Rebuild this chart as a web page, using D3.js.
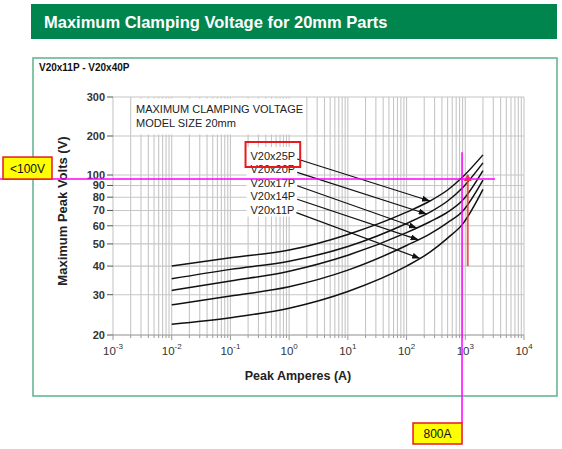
<!DOCTYPE html>
<html lang="en">
<head>
<meta charset="utf-8">
<title>Maximum Clamping Voltage for 20mm Parts</title>
<script src="https://d3js.org/d3.v7.min.js"></script>
<style>
  body { margin: 0; background: #fff; }
  text { font-family: "Liberation Sans", Arial, sans-serif; }
</style>
</head>
<body>
<script>
var w = 562, h = 449;

// data
var currents = [0.01, 0.1, 1, 10, 100, 250, 500, 900, 2000];
var models = ["V20x25P", "V20x20P", "V20x17P", "V20x14P", "V20x11P"];
var v20x25 = [40, 43.5, 47, 55, 68.8, 77, 86, 98, 143];
var v20x20 = [35.2, 38.7, 42, 48.7, 61.4, 68.8, 77, 88, 124];
var v20x17 = [31.3, 34.4, 38, 44.6, 56, 62.5, 68.8, 77.5, 108];
var v20x14 = [27.1, 29.6, 32.5, 38.4, 49.2, 55.3, 62, 69.5, 95];
var v20x11 = [22.3, 23.8, 26.2, 31, 40, 46, 53, 61, 86.5];
var tipCurrents = [250, 220, 150, 160, 170];
var yTicks = [20, 30, 40, 50, 60, 70, 80, 90, 100, 200, 300];
var xDecades = [-3, -2, -1, 0, 1, 2, 3, 4];

// annotations
var markAmps = 880, markVolts = 96, markTop = 150;
var limitAmps = 1100, limitLow = 40, limitHigh = 100;

var series = [v20x25, v20x20, v20x17, v20x14, v20x11];

var svg = d3.select("body").append("svg")
    .attr("width", w).attr("height", h);

// header bar
svg.append("rect").attr("x", 31).attr("y", 4).attr("width", 526).attr("height", 35)
    .attr("fill", "#00854f");
svg.append("text").attr("x", 44).attr("y", 28)
    .attr("fill", "#fff").attr("font-size", 16.5).attr("font-weight", "bold")
    .text("Maximum Clamping Voltage for 20mm Parts");

// panel
svg.append("rect").attr("x", 33).attr("y", 58).attr("width", 524).attr("height", 338)
    .attr("fill", "#fff").attr("stroke", "#5cb38e").attr("stroke-width", 1.5);
svg.append("text").attr("x", 39).attr("y", 71)
    .attr("font-size", 10).attr("font-weight", "bold").attr("fill", "#111")
    .text("V20x11P - V20x40P");

// scales (vertical axis of the datasheet is not a pure log, so piecewise)
var x = d3.scaleLog().domain([1e-3, 1e4]).range([113, 524]);
var y = d3.scaleLog().domain([20, 100, 200, 300]).range([335, 175, 136, 97]);

var defs = svg.append("defs");
defs.append("marker").attr("id", "head")
    .attr("markerUnits", "userSpaceOnUse")
    .attr("markerWidth", 8).attr("markerHeight", 6)
    .attr("refX", 8).attr("refY", 3).attr("orient", "auto")
    .append("path").attr("d", "M0,0L8,3L0,6Z").attr("fill", "#111");
defs.append("marker").attr("id", "redhead")
    .attr("markerUnits", "userSpaceOnUse")
    .attr("markerWidth", 8).attr("markerHeight", 8)
    .attr("refX", 6).attr("refY", 4).attr("orient", "auto")
    .append("path").attr("d", "M0,0L7,4L0,8Z").attr("fill", "#e04040");

// grid
var grid = svg.append("g");
grid.selectAll(".vg").data(x.ticks()).enter().append("line")
    .attr("x1", d => x(d)).attr("x2", d => x(d))
    .attr("y1", y(300)).attr("y2", y(20))
    .attr("stroke", "#c6c6c6").attr("stroke-width", 1.1);
grid.selectAll(".hg").data(yTicks).enter().append("line")
    .attr("x1", x(1e-3)).attr("x2", x(1e4))
    .attr("y1", d => y(d)).attr("y2", d => y(d))
    .attr("stroke", "#c6c6c6").attr("stroke-width", 1.1);

// y axis ticks and labels
var ya = svg.append("g");
ya.selectAll("line").data(yTicks).enter().append("line")
    .attr("x1", x(1e-3) - 6).attr("x2", x(1e-3))
    .attr("y1", d => y(d)).attr("y2", d => y(d))
    .attr("stroke", "#555");
ya.selectAll("text").data(yTicks).enter().append("text")
    .attr("x", x(1e-3) - 8).attr("y", d => y(d) + 4)
    .attr("text-anchor", "end").attr("font-size", 11).attr("font-weight", "bold")
    .attr("fill", "#333").text(d => d);

// x axis
var xa = svg.append("g");
xa.append("line").attr("x1", x(1e-3)).attr("x2", x(1e4))
    .attr("y1", y(20)).attr("y2", y(20)).attr("stroke", "#aaa");
xa.selectAll("line.t").data(x.ticks()).enter().append("line")
    .attr("x1", d => x(d)).attr("x2", d => x(d))
    .attr("y1", y(20)).attr("y2", d => y(20) + (Math.abs(Math.log10(d) % 1) < 1e-9 ? 5 : 3))
    .attr("stroke", "#999");
var xl = xa.selectAll("text").data(xDecades).enter().append("text")
    .attr("x", d => x(Math.pow(10, d))).attr("y", y(20) + 20)
    .attr("text-anchor", "middle").attr("font-size", 11.5).attr("fill", "#333");
xl.append("tspan").text("10");
xl.append("tspan").attr("dy", -6).attr("font-size", 8).text(d => d);

// axis titles
svg.append("text").attr("x", 298).attr("y", 380)
    .attr("text-anchor", "middle").attr("font-size", 12.5).attr("font-weight", "bold")
    .attr("fill", "#222").text("Peak Amperes (A)");
svg.append("text").attr("transform", "translate(66.5,211) rotate(-90)")
    .attr("text-anchor", "middle").attr("font-size", 13).attr("font-weight", "bold")
    .attr("fill", "#222").text("Maximum Peak Volts (V)");

// heading inside the plot
var head = svg.append("g");
var headBg = head.append("rect").attr("fill", "#fff");
head.append("text").attr("x", 136).attr("y", 113).attr("font-size", 11).attr("fill", "#222")
    .text("MAXIMUM CLAMPING VOLTAGE");
head.append("text").attr("x", 136).attr("y", 127).attr("font-size", 11).attr("fill", "#222")
    .text("MODEL SIZE 20mm");
var hb = head.node().getBBox();
headBg.attr("x", hb.x - 3).attr("y", y(300) + 1.5)
    .attr("width", hb.width + 6).attr("height", y(200) - y(300) - 3);

// curves
var line = d3.line()
    .x((d, i) => x(currents[i]))
    .y(d => y(d))
    .curve(d3.curveMonotoneX);

var curves = svg.append("g").selectAll("path").data(series).enter().append("path")
    .attr("d", line)
    .attr("fill", "none").attr("stroke", "#111").attr("stroke-width", 1.5);

function pointAtX(path, px) {
  var len = path.getTotalLength(), lo = 0, hi = len, p;
  for (var k = 0; k < 40; k++) {
    var mid = (lo + hi) / 2;
    p = path.getPointAtLength(mid);
    if (p.x < px) lo = mid; else hi = mid;
  }
  return p;
}

// model labels with arrows
var lab = svg.append("g");
var labBg = lab.append("rect").attr("fill", "#fff");
var labX = x(0.22), labY0 = 160, labStep = 13.4;
var labels = lab.selectAll("text").data(models).enter().append("text")
    .attr("x", labX).attr("y", (d, i) => labY0 + i * labStep)
    .attr("font-size", 11).attr("fill", "#222").text(d => d);
var lb = lab.node().getBBox();
labBg.attr("x", lb.x - 4).attr("y", lb.y - 3).attr("width", lb.width + 6).attr("height", lb.height + 4);

labels.each(function(d, i) {
  var tx = labX + this.getComputedTextLength() + 2;
  var ty = labY0 + i * labStep - 1;
  var tip = pointAtX(curves.nodes()[i], x(tipCurrents[i]));
  svg.append("line")
      .attr("x1", tx).attr("y1", ty).attr("x2", tip.x).attr("y2", tip.y)
      .attr("stroke", "#111").attr("stroke-width", 1.2)
      .attr("marker-end", "url(#head)");
});

// red box around first label
var fb = labels.nodes()[0].getBBox();
svg.append("rect").attr("x", fb.x - 5).attr("y", fb.y - 8)
    .attr("width", fb.width + 10).attr("height", fb.height + 13)
    .attr("fill", "none").attr("stroke", "#e8191f").attr("stroke-width", 2);

// red limit arrow
svg.append("line")
    .attr("x1", x(limitAmps)).attr("x2", x(limitAmps))
    .attr("y1", y(limitLow)).attr("y2", y(limitHigh))
    .attr("stroke", "#e04040").attr("stroke-opacity", 0.85).attr("stroke-width", 2)
    .attr("marker-end", "url(#redhead)");

// magenta markers
var boxTop = 423;
svg.append("line")
    .attr("x1", 0).attr("x2", x(3200))
    .attr("y1", y(markVolts)).attr("y2", y(markVolts))
    .attr("stroke", "#ff00ff").attr("stroke-width", 1.5);
svg.append("line")
    .attr("x1", x(markAmps)).attr("x2", x(markAmps))
    .attr("y1", y(markTop)).attr("y2", boxTop)
    .attr("stroke", "#ff00ff").attr("stroke-width", 1.5);

function callout(bx, by, bw, bh, txt) {
  svg.append("rect").attr("x", bx).attr("y", by).attr("width", bw).attr("height", bh)
      .attr("fill", "#ffff00").attr("stroke", "#e8191f").attr("stroke-width", 1.5);
  svg.append("text").attr("x", bx + bw / 2).attr("y", by + bh / 2 + 4.5)
      .attr("text-anchor", "middle").attr("font-size", 12).attr("fill", "#111")
      .text(txt);
}
callout(3, y(markVolts) - 22, 49, 22, "<100V");
callout(x(markAmps) - 49, boxTop, 49, 21, "800A");
</script>
</body>
</html>
